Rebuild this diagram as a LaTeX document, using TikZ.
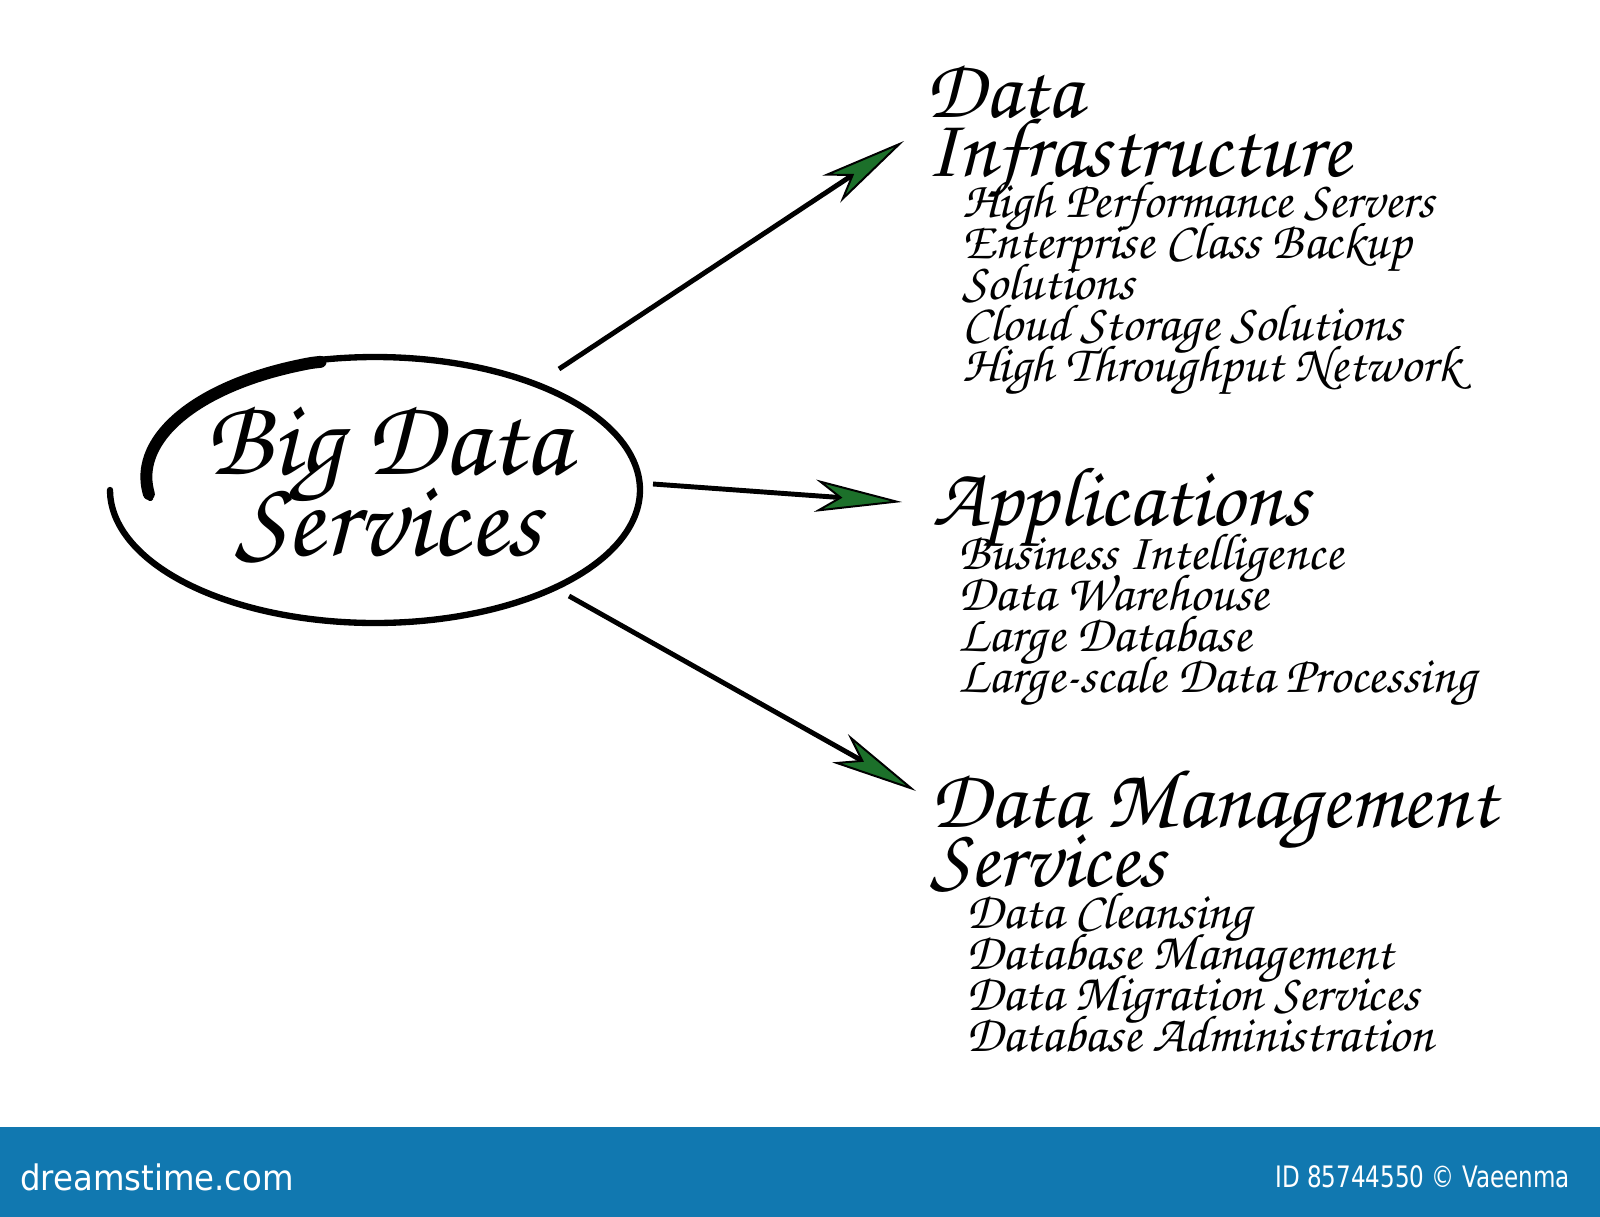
\documentclass[tikz,border=0pt]{standalone}
\usepackage[T1]{fontenc}
\usepackage{fontspec}
\newfontfamily\bannerfont{DejaVu Sans}
\usetikzlibrary{arrows.meta,positioning}
\definecolor{tipgreen}{RGB}{28,112,42}
\definecolor{bannerblue}{RGB}{17,120,176}
\newcommand\hand{\fontencoding{T1}\fontfamily{pzc}\fontseries{m}\fontshape{it}\selectfont\lineskiplimit=-200pt}

\begin{document}
\begin{tikzpicture}[x=0.025cm,y=-0.025cm,
    head/.style={font={\hand\fontsize{60}{41.8}\selectfont},anchor=base west,align=left,inner sep=0pt},
    item/.style={font={\hand\fontsize{37}{29.1}\selectfont},anchor=base west,align=left,inner sep=0pt},
    arr/.style={line width=3.5pt,-{Stealth[length=62pt,width=23pt,inset=17pt,line width=1.4pt,fill=tipgreen]}}]
    \useasboundingbox (0,0) rectangle (1600,1217);
    % the big open ellipse
    \draw[line width=4.5pt,line cap=round] plot[domain=176:540,samples=120,smooth]
        ({375+265*min(1,0.85+0.15*(\x-176)/80)*cos(\x)},{490+133*min(1,0.85+0.15*(\x-176)/80)*sin(\x)});
    \draw[line width=8.5pt,line cap=round] plot[domain=178:258,samples=40,smooth]
        ({375+262*min(1,0.86+0.14*(\x-176)/80)*cos(\x)},{490+131*min(1,0.86+0.14*(\x-176)/80)*sin(\x)});
    \node[font={\hand\fontsize{78}{58}\selectfont},align=center,inner sep=0pt] (bds) at (388,483) {Big Data\\Services};

    % headings and lists (base = last line)
    \node[head] (infra) at (925,176) {Data\\Infrastructure};
    \node[item] (infralist) at (962,381) {High Performance Servers\\Enterprise Class Backup\\Solutions\\Cloud Storage Solutions\\High Throughput Network};
    \node[head] (apps) at (932,525) {Applications};
    \node[item] (appslist) at (958,692) {Business Intelligence\\Data Warehouse\\Large Database\\Large-scale Data Processing};
    \node[head] (dms) at (930,886) {Data Management\\Services};
    \node[item] (dmslist) at (966,1051) {Data Cleansing\\Database Management\\Data Migration Services\\Database Administration};

    % arrows
    \coordinate (s1) at (559,369);
    \coordinate (e1) at (904,141);
    \coordinate (s2) at (653,484);
    \coordinate (e2) at (902,502);
    \coordinate (s3) at (569,596);
    \coordinate (e3) at (916,791);
    \draw[arr] (s1) -- (e1);
    \draw[arr] (s2) -- (e2);
    \draw[arr] (s3) -- (e3);

    % banner
    \fill[bannerblue] (0,1127) rectangle (1600,1217);
    \node[font={\bannerfont\fontsize{25}{25}\selectfont},text=white,anchor=base west,inner sep=0pt] (site) at (20,1190) {\scalebox{0.92}[1]{dreamstime.com}};
    \node[font={\bannerfont\fontsize{21}{21}\selectfont},text=white,anchor=base east,inner sep=0pt] (imgid) at (1570,1187) {\scalebox{0.78}[1]{ID 85744550 © Vaeenma}};
\end{tikzpicture}
\end{document}
